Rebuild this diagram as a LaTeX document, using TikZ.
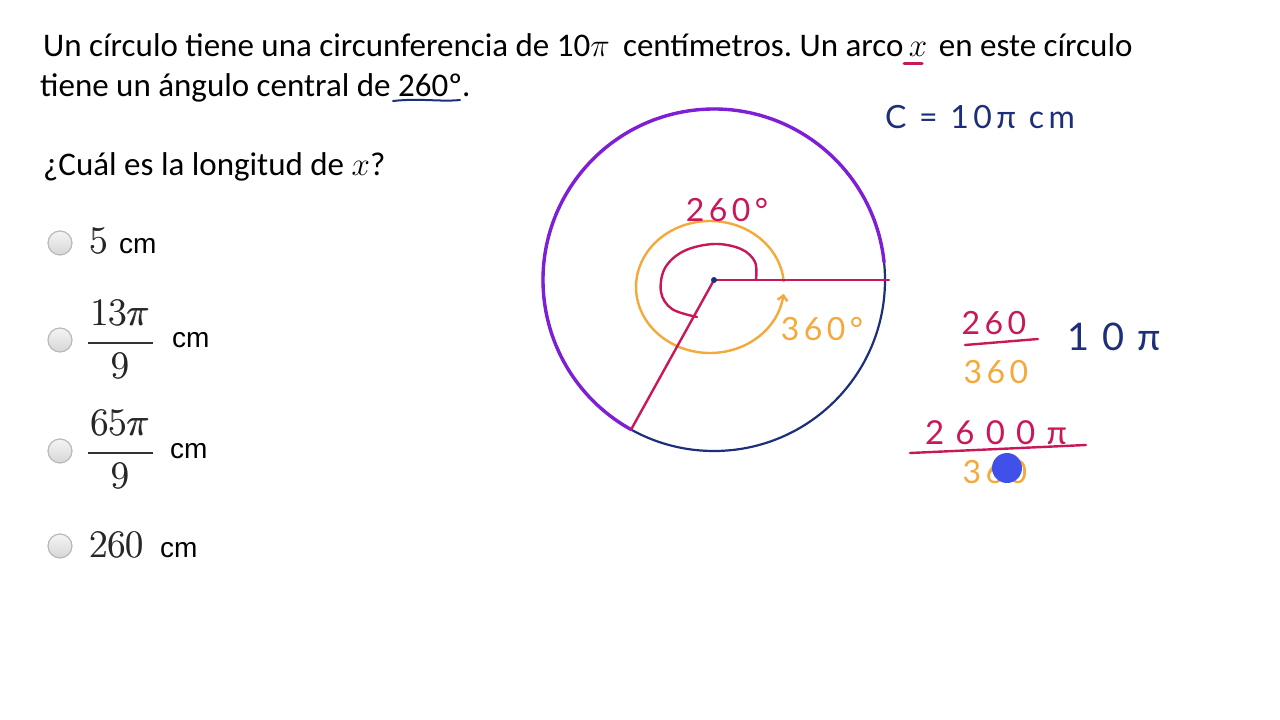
\documentclass[tikz,border=0pt]{standalone}
\usepackage{fix-cm}
\usepackage{amsmath}
\usepackage[no-math]{fontspec}
\usetikzlibrary{calc,arrows.meta}
\setmainfont{Carlito}
\newfontfamily\arialfont{Liberation Sans}
\newfontfamily\handfont{Lato}[LetterSpace=14]
\newfontfamily\widehandfont{Lato}[LetterSpace=34]
\frenchspacing

\definecolor{penred}{HTML}{C8185A}
\definecolor{penorange}{HTML}{F4A93A}
\definecolor{pennavy}{HTML}{1D2F7A}
\definecolor{penpurple}{HTML}{7E1FD6}
\definecolor{dotblue}{HTML}{3F51E8}

\newcommand{\questionsize}{\fontsize{33}{40}\selectfont}
\newcommand{\optmath}[1]{{\fontsize{39}{44}\selectfont\color{black!85}\rlap{$#1$}\kern0.8pt$#1$}}
\newcommand{\optunit}{\arialfont\fontsize{28}{32}\selectfont cm}

\begin{document}
\begin{tikzpicture}[x=1pt,y=-1pt,
    txt/.style={anchor=base west, inner sep=0pt},
    num/.style={anchor=base, inner sep=0pt},
    radio/.style={circle, draw=gray!55, line width=1.2pt, minimum size=24pt,
      inner sep=0pt, top color=gray!8, bottom color=gray!32},
    pen/.style={line width=2.4pt, line cap=round, line join=round},
    hand/.style={inner sep=0pt, font=\handfont\fontsize{32}{34}\selectfont}]
  \useasboundingbox (0,0) rectangle (1280,720);

  % Question
  \node[txt, font=\questionsize] (line1) at (43,56)
    {Un círculo tiene una circunferencia de 10$\pi$\hspace{0.4em}centímetros. Un arco\,$x$\hspace{0.35em}en este círculo};
  \node[txt, font=\questionsize] (line2) at (40,96)
    {tiene un ángulo central de 260º.};
  \node[txt, font=\questionsize] (ask) at (43,175)
    {¿Cuál es la longitud de $x$?};

  % Underlines
  \draw[pen, pennavy, line width=2pt] (393,101) .. controls (420,98) and (440,102) .. (460,100);
  \draw[pen, penred, line width=3pt] (904,63) -- (922,63);

  % Choices
  \node[radio] (r1) at (60,243) {};
  \node[radio] (r2) at (60,340) {};
  \node[radio] (r3) at (60,451) {};
  \node[radio] (r4) at (60,546) {};

  \node[txt] (a1) at (89,253) {\optmath{5}};
  \node[txt] (u1) at (119,253) {\optunit};

  \node[num] (n2) at (120,325) {\optmath{13\pi}};
  \node[num] (d2) at (120,378) {\optmath{9}};
  \draw[black!80, line width=1.4pt] (88,343) -- (153,343);
  \node[txt] (u2) at (172,347) {\optunit};

  \node[num] (n3) at (120,435) {\optmath{65\pi}};
  \node[num] (d3) at (120,488) {\optmath{9}};
  \draw[black!80, line width=1.4pt] (88,453) -- (153,453);
  \node[txt] (u3) at (170,458) {\optunit};

  \node[txt] (a4) at (89,557) {\optmath{260}};
  \node[txt] (u4) at (160,557) {\optunit};

  % Circle
  \coordinate (ctr) at (714,280);
  \coordinate (rim1) at (889,280);
  \coordinate (rim2) at ($(ctr)+(119:171)$);
  \draw[pennavy, line width=2.2pt] (ctr) circle (171);
  \draw[penpurple, line width=3.4pt, line cap=round] ($(ctr)+(-6:171)$) arc[start angle=-6, end angle=-241, radius=171];

  % Orange loop
  \draw[pen, penorange, -{Straight Barb[length=5pt]}] plot[domain=-5:-354, samples=50, smooth]
    ({710+74*cos(\x)}, {287+66*sin(\x)});

  % Radii
  \draw[pen, penred] (ctr) -- (rim1);
  \draw[pen, penred] (ctr) -- (rim2);
  \fill[pennavy] (ctr) circle (3);

  % Red angle
  \draw[pen, penred] plot[smooth, tension=0.6] coordinates
    {(756,280) (755,262) (741,249) (714,244) (684,251) (665,268) (661,292) (672,309) (697,317)};

  % Labels
  \node[hand, penred] (lab260) at (727,210) {260°};
  \node[hand, penorange] (lab360) at (822,329) {360°};
  \node[hand, pennavy] (circum) at (980,117) {C = 10π cm};

  % Working
  \node[hand, penred] (num1) at (994,323) {260};
  \node[hand, penorange] (den1) at (996,372) {360};
  \draw[pen, penred] (965,345) -- (1038,339);
  \node[hand, pennavy, font=\widehandfont\fontsize{38}{40}\selectfont] (fac) at (1114,337) {10π};

  \node[hand, penred, font=\widehandfont\fontsize{33}{34}\selectfont] (num2) at (996,433) {2600π};
  \draw[pen, penred] (910,453) -- (1086,445);
  \node[hand, penorange] (den2) at (995,472) {360};
  \fill[dotblue] (1007,468) circle (15);
\end{tikzpicture}
\end{document}
